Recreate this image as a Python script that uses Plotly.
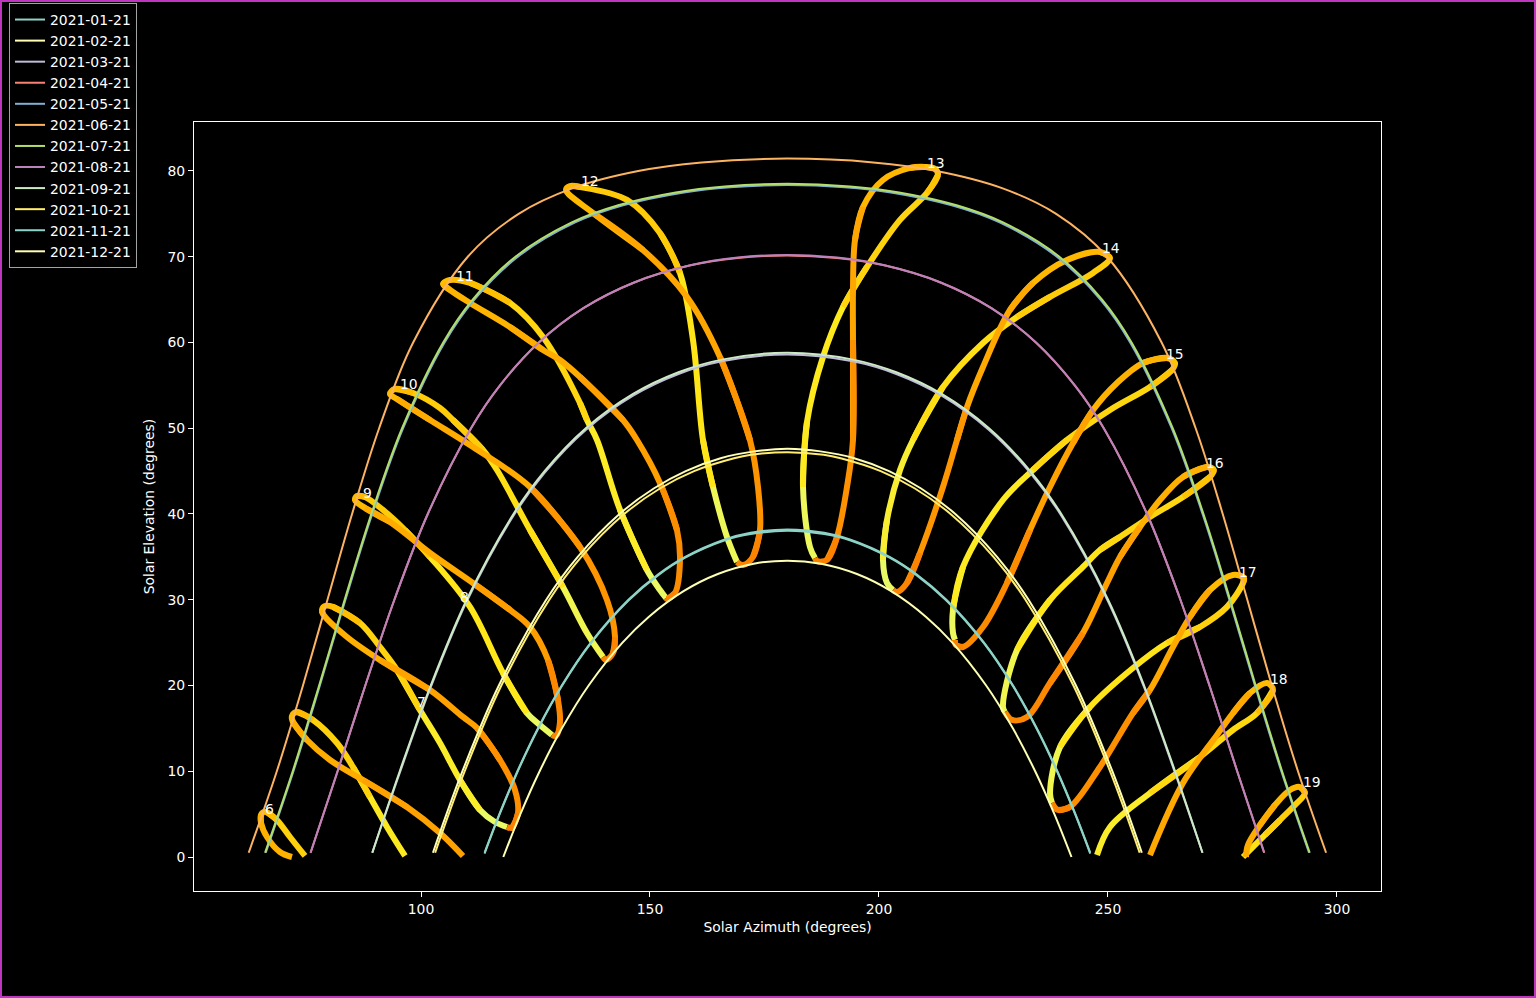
import math
import plotly.graph_objects as go

# ---------------- Sun paths (21st of each month) ----------------
dates = ['2021-01-21', '2021-02-21', '2021-03-21', '2021-04-21', '2021-05-21', '2021-06-21',
         '2021-07-21', '2021-08-21', '2021-09-21', '2021-10-21', '2021-11-21', '2021-12-21']
path_colors = ['#8dd3c7', '#feffb3', '#bfbbd9', '#fa8174', '#81b1d2', '#fdb462',
               '#b3de69', '#bc82bd', '#ccebc4', '#ffed6f', '#8dd3c7', '#feffb3']

jan_az = [113.88, 117.11, 121.05, 125.52, 130.73, 137.06, 145.29, 151.88, 157.69, 166.19, 171.97, 180.0,
          188.03, 193.81, 202.31, 208.12, 214.71, 222.94, 229.27, 234.48, 238.95, 242.89, 246.12]
jan_el = [0.5, 5, 10, 15, 20, 25, 30, 33, 35, 37, 37.8, 38.2, 37.8, 37, 35, 33, 30, 25, 20, 15, 10, 5, 0.5]

feb_az = [102.61, 109.05, 117.00, 127.34, 134.22, 143.34, 150.90, 157.81, 165.41, 172.76, 180.0,
          187.24, 194.59, 202.19, 209.10, 216.66, 225.78, 232.66, 243.00, 250.95, 257.39]
feb_el = [0.5, 10, 20, 30, 35, 40, 43, 45, 46.5, 47.3, 47.6, 47.3, 46.5, 45, 43, 40, 35, 30, 20, 10, 0.5]

mar_az = [89.37, 95.36, 102.12, 109.98, 120.19, 126.98, 135.98, 146.31, 156.08, 165.69, 180.0,
          194.31, 203.92, 213.69, 224.02, 233.02, 239.81, 250.02, 257.88, 264.64, 270.63]
mar_el = [0.5, 9.8, 19.8, 29.8, 39.8, 44.8, 49.8, 53.8, 56.3, 57.8, 58.6, 57.8, 56.3, 53.8, 49.8, 44.8, 39.8, 29.8, 19.8, 9.8, 0.5]

apr_az = [75.89, 81.79, 87.84, 94.19, 101.48, 110.92, 117.25, 125.73, 135.46, 146.55, 158.84, 169.18, 180.0,
          190.82, 201.16, 213.45, 224.54, 234.27, 242.75, 249.08, 258.52, 265.81, 272.16, 278.21, 284.11]
apr_el = [0.5, 10, 20, 30, 40, 50, 55, 60, 64, 67, 69, 69.85, 70.15, 69.85, 69, 67, 64, 60, 55, 50, 40, 30, 20, 10, 0.5]

may_az = [66.1, 72.15, 77.92, 83.5, 89.35, 96.1, 105.15, 111.65, 121.15, 133.65, 144.1, 157.4, 167.5, 180.0,
          192.5, 202.6, 215.9, 226.35, 238.85, 248.35, 254.85, 263.9, 270.65, 276.5, 282.08, 287.85, 293.9]
may_el = [0.5, 10, 20, 30, 40, 50, 60, 65, 70, 74, 76, 77.5, 78.1, 78.35,
          78.1, 77.5, 76, 74, 70, 65, 60, 50, 40, 30, 20, 10, 0.5]

jun_az = [62.38, 68.52, 74.23, 79.58, 84.95, 90.86, 98.29, 110.21, 121.32, 133.14, 147.43, 161.27, 180.0,
          198.73, 212.57, 226.86, 238.68, 249.79, 261.71, 269.14, 275.05, 280.42, 285.77, 291.48, 297.62]
jun_el = [0.5, 10, 20, 30, 40, 50, 60, 70, 75, 78, 80, 81, 81.44, 81, 80, 78, 75, 70, 60, 50, 40, 30, 20, 10, 0.5]

jul_az = [65.95, 71.99, 77.76, 83.33, 89.15, 95.87, 104.85, 111.28, 120.62, 132.92, 143.06, 155.62, 166.33, 180.0,
          193.67, 204.38, 216.94, 227.08, 239.38, 248.72, 255.15, 264.13, 270.85, 276.67, 282.24, 288.01, 294.05]
jul_el = [0.5, 10, 20, 30, 40, 50, 60, 65, 70, 74, 76, 77.5, 78.2, 78.5,
          78.2, 77.5, 76, 74, 70, 65, 60, 50, 40, 30, 20, 10, 0.5]

aug_az = [75.89, 81.79, 87.84, 94.19, 101.48, 110.92, 117.25, 125.73, 135.46, 146.55, 158.84, 169.18, 180.0,
          190.82, 201.16, 213.45, 224.54, 234.27, 242.75, 249.08, 258.52, 265.81, 272.16, 278.21, 284.11]
aug_el = [0.5, 10, 20, 30, 40, 50, 55, 60, 64, 67, 69, 69.9, 70.2, 69.9, 69, 67, 64, 60, 55, 50, 40, 30, 20, 10, 0.5]

sep_az = [89.37, 95.36, 102.12, 109.98, 120.19, 126.98, 135.98, 146.31, 156.08, 165.69, 180.0,
          194.31, 203.92, 213.69, 224.02, 233.02, 239.81, 250.02, 257.88, 264.64, 270.63]
sep_el = [0.5, 10, 20, 30, 40, 45, 50, 54, 56.5, 58, 58.8, 58, 56.5, 54, 50, 45, 40, 30, 20, 10, 0.5]

oct_az = [103.09, 109.55, 117.55, 128.02, 135.01, 144.37, 152.25, 159.63, 168.37, 172.08, 180.0,
          187.92, 191.63, 200.37, 207.75, 215.63, 224.99, 231.98, 242.45, 250.45, 256.91]
oct_el = [0.5, 10, 20, 30, 35, 40, 43, 45, 46.5, 46.9, 47.2, 46.9, 46.5, 45, 43, 40, 35, 30, 20, 10, 0.5]

nov_az = [113.88, 117.11, 121.05, 125.52, 130.73, 137.06, 145.29, 151.88, 157.69, 166.19, 171.97, 180.0,
          188.03, 193.81, 202.31, 208.12, 214.71, 222.94, 229.27, 234.48, 238.95, 242.89, 246.12]
nov_el = [0.4, 4.9, 9.9, 14.9, 19.9, 24.9, 29.9, 32.9, 34.9, 36.9, 37.65, 38.05,
          37.65, 36.9, 34.9, 32.9, 29.9, 24.9, 19.9, 14.9, 9.9, 4.9, 0.4]

dec_az = [117.97, 121.70, 125.90, 130.77, 136.60, 143.99, 149.71, 157.33, 164.81, 172.64, 180.0,
          187.36, 195.19, 202.67, 210.29, 216.01, 223.40, 229.23, 234.10, 238.30, 242.03]
dec_el = [0.0, 5, 10, 15, 20, 25, 28, 31, 33, 34.2, 34.56, 34.2, 33, 31, 28, 25, 20, 15, 10, 5, 0.0]

path_az = [jan_az, feb_az, mar_az, apr_az, may_az, jun_az, jul_az, aug_az, sep_az, oct_az, nov_az, dec_az]
path_el = [jan_el, feb_el, mar_el, apr_el, may_el, jun_el, jul_el, aug_el, sep_el, oct_el, nov_el, dec_el]

# ---------------- Analemmas (clock hours), points in time order Jan -> Dec ----------------
hours = [6, 7, 8, 9, 10, 11, 12, 13, 14, 15, 16, 17, 18, 19]

h6_az = [74.67, 71.40, 68.56, 66.60, 65.72, 65.07, 65.07, 66.38, 69.21, 71.83]
h6_el = [0.12, 2.33, 4.31, 5.13, 5.25, 4.90, 3.97, 2.33, 0.58, 0.0]

h7_az = [96.51, 92.58, 88.86, 85.15, 81.66, 76.42, 72.93, 71.83, 72.05, 75.11, 80.13, 87.34, 96.94, 104.15, 109.17]
h7_el = [0.12, 3.50, 7.00, 10.50, 13.29, 15.98, 16.91, 16.44, 15.74, 13.64, 11.31, 8.98, 5.83, 2.80, 0.12]

h8_az = [118.78, 116.16, 112.88, 108.52, 104.15, 99.78, 94.76, 91.05, 86.68, 80.79, 79.04,
         78.38, 78.60, 83.84, 91.05, 101.97, 109.17, 112.23, 117.25, 120.52, 121.18, 119.87]
h8_el = [3.50, 4.08, 5.48, 8.98, 13.29, 17.14, 21.81, 24.49, 27.29, 29.16, 29.27,
         28.81, 28.34, 25.66, 22.97, 19.48, 16.33, 15.04, 11.31, 7.81, 5.13, 3.40]

h9_az = [128.60, 125.98, 123.14, 117.90, 110.70, 101.97, 96.51, 91.70, 87.77, 86.03,
         85.59, 87.77, 93.23, 101.97, 111.35, 119.43, 123.80, 127.73, 129.91, 130.35, 129.48]
h9_el = [14.23, 15.39, 16.79, 21.46, 29.16, 34.99, 38.13, 40.47, 41.98, 42.10,
         41.63, 40.70, 39.07, 35.45, 31.95, 28.81, 26.82, 22.97, 18.31, 15.74, 14.13]

h10_az = [139.74, 136.24, 131.00, 123.80, 116.59, 113.54, 106.99, 104.15, 98.25, 94.32,
          93.23, 94.76, 101.97, 111.35, 123.80, 134.72, 140.61, 142.36, 141.92, 140.39]
h10_el = [23.32, 26.12, 31.49, 38.13, 45.13, 47.46, 50.96, 52.36, 54.11, 54.58,
          53.99, 53.41, 50.96, 47.81, 43.15, 36.15, 29.97, 25.66, 23.79, 22.97]

h11_az = [153.49, 152.18, 149.34, 143.45, 138.43, 136.24, 134.72, 126.64, 119.43, 110.70, 106.33,
          104.80, 106.33, 110.70, 119.43, 126.64, 130.35, 134.72, 144.11, 147.16, 152.18, 155.89, 156.55, 155.46, 153.71]
h11_el = [30.20, 31.14, 33.47, 40.47, 48.63, 50.96, 52.94, 60.64, 64.61, 66.94, 67.29,
          66.82, 66.12, 64.61, 61.81, 59.13, 57.96, 55.98, 50.96, 48.63, 43.62, 38.13, 34.64, 30.79, 30.09]

h12_az = [168.99, 166.81, 163.76, 161.57, 159.39, 156.55, 152.18, 144.98, 134.72, 132.53,
          131.66, 137.55, 148.47, 158.08, 165.28, 171.83, 173.58, 174.02, 172.49, 170.30]
h12_el = [34.40, 37.32, 43.15, 48.63, 60.29, 68.11, 72.77, 76.62, 78.13, 78.25,
          77.78, 75.10, 70.79, 65.31, 58.31, 48.63, 43.15, 38.13, 34.99, 34.05]

h13_az = [186.03, 184.93, 183.41, 184.28, 187.77, 192.14, 197.38, 204.59, 210.48, 212.88, 212.23,
          210.04, 206.77, 200.87, 196.51, 194.76, 194.32, 194.32, 194.32, 193.01, 190.83, 188.65, 186.46]
h13_el = [34.87, 36.15, 43.15, 50.73, 58.31, 64.14, 68.81, 74.29, 77.44, 79.54, 80.24,
          80.47, 80.35, 78.95, 75.80, 71.95, 66.12, 60.29, 48.63, 43.15, 37.32, 34.64, 34.52]

h14_az = [203.06, 201.75, 200.87, 201.75, 204.59, 207.43, 213.97, 222.71, 230.13, 237.34, 246.73, 250.44,
          248.25, 241.05, 233.62, 228.60, 222.71, 219.22, 217.04, 213.97, 208.95, 206.11, 203.93]
h14_el = [31.14, 31.95, 34.64, 39.30, 45.13, 48.63, 54.81, 59.94, 62.97, 65.31, 68.11, 69.86,
          70.55, 69.62, 66.94, 63.79, 57.14, 52.48, 48.63, 43.15, 35.45, 31.95, 30.90]

h15_az = [216.59, 216.16, 216.16, 218.34, 227.07, 233.62, 241.05, 250.44, 259.17, 263.97, 264.64,
          262.88, 257.64, 251.97, 246.73, 242.36, 237.34, 232.97, 227.95, 222.71, 218.34, 216.81]
h15_el = [25.31, 26.12, 28.81, 33.82, 41.63, 45.13, 48.63, 52.13, 54.81, 56.79, 57.61,
          58.19, 57.61, 55.28, 52.13, 48.28, 43.15, 38.13, 31.95, 26.82, 24.49, 24.72]

h16_az = [227.51, 227.07, 230.13, 237.34, 244.54, 248.25, 252.62, 259.17, 266.37, 272.27, 273.14,
          271.62, 266.37, 261.35, 256.98, 252.62, 249.78, 244.54, 237.34, 232.32, 229.04]
h16_el = [16.91, 17.49, 24.14, 29.97, 33.82, 35.80, 37.32, 39.65, 41.98, 44.32, 45.13,
          45.48, 44.32, 41.63, 38.48, 34.99, 31.95, 26.12, 20.29, 16.33, 15.98]

h17_az = [237.77, 237.34, 239.52, 246.07, 255.46, 262.88, 270.09, 275.98, 279.48, 279.69,
          277.29, 272.27, 267.90, 264.19, 259.17, 255.46, 248.25, 241.70, 239.08]
h17_el = [6.30, 7.46, 12.83, 17.49, 22.04, 24.96, 26.82, 29.16, 31.95, 32.54,
          32.89, 31.14, 27.99, 24.49, 19.48, 16.79, 10.50, 5.83, 5.48]

h18_az = [247.60, 250.44, 259.17, 270.09, 277.29, 282.53, 286.03, 284.72, 281.01, 277.29, 273.80, 266.37, 259.17]
h18_el = [0.23, 3.50, 7.46, 11.66, 14.81, 16.79, 19.48, 20.29, 19.13, 16.79, 14.23, 8.63, 0.23]

h19_az = [279.48, 281.01, 284.29, 287.55, 290.83, 293.01, 291.92, 289.74, 286.46, 283.19, 280.56, 280.13]
h19_el = [0.0, 0.82, 2.57, 4.31, 6.06, 7.46, 8.16, 7.81, 6.06, 3.73, 1.40, 0.0]

ana_az = {6: h6_az, 7: h7_az, 8: h8_az, 9: h9_az, 10: h10_az, 11: h11_az, 12: h12_az,
          13: h13_az, 14: h14_az, 15: h15_az, 16: h16_az, 17: h17_az, 18: h18_az, 19: h19_az}
ana_el = {6: h6_el, 7: h7_el, 8: h8_el, 9: h9_el, 10: h10_el, 11: h11_el, 12: h12_el,
          13: h13_el, 14: h14_el, 15: h15_el, 16: h16_el, 17: h17_el, 18: h18_el, 19: h19_el}
# winter bottoms of the analemmas that are cut by the horizon (estimated)
ana_bottom = {6: -17.0, 7: -8.0, 18: -7.0, 19: -15.0}

# hour label positions (azimuth, elevation of the text's left edge)
label_hours = [6, 7, 8, 9, 10, 11, 12, 13, 14, 15, 16, 17, 18, 19]
label_az = [65.72, 98.91, 108.30, 87.12, 95.20, 107.42, 134.72, 210.26, 248.47, 262.44, 271.18, 278.38, 285.15, 292.36]
label_el = [5.60, 18.08, 30.32, 42.45, 55.16, 67.76, 78.84, 80.93, 71.02, 58.66, 45.95, 33.24, 20.76, 8.75]

# ---------------- styling helpers ----------------
WISTIA = [(0.0, (228, 255, 122)), (0.25, (255, 232, 26)), (0.5, (255, 189, 0)),
          (0.75, (255, 160, 0)), (1.0, (252, 127, 0))]


def wistia(f):
    f = max(0.0, min(1.0, f))
    for (a, ca), (b, cb) in zip(WISTIA[:-1], WISTIA[1:]):
        if f <= b:
            t = (f - a) / (b - a)
            c = [round(ca[k] + (cb[k] - ca[k]) * t) for k in range(3)]
            return 'rgb(%d,%d,%d)' % tuple(c)
    return 'rgb(252,127,0)'


fig = go.Figure()

CH = 3  # segments per coloured piece (pieces overlap by one segment to hide joints)
for h in hours:
    az = list(ana_az[h])
    el = list(ana_el[h])
    closed = h not in ana_bottom
    if closed:
        az.append(az[0])
        el.append(el[0])
    lo = ana_bottom.get(h, min(el))
    hi = max(el)
    top = el.index(hi)
    fr = []
    for i, e in enumerate(el):
        u = max(0.0, min(1.0, (e - lo) / (hi - lo)))
        t = math.acos(1 - 2 * u) / (2 * math.pi)
        f = t - 0.0274 if i <= top else 1 - t - 0.0274
        fr.append(max(0.0, min(1.0, f)))
    if closed:
        fr[-1] = 1.0
    for s in range(0, len(az) - 1, CH):
        idx = list(range(max(0, s - 1), min(s + CH + 1, len(az))))
        core = list(range(s, min(s + CH + 1, len(az))))
        col = wistia(sum(fr[i] for i in core) / len(core))
        fig.add_trace(go.Scatter(x=[az[i] for i in idx], y=[el[i] for i in idx], mode='lines',
                                 line=dict(color=col, width=6, shape='spline'),
                                 showlegend=False, hoverinfo='skip'))

for i, d in enumerate(dates):
    fig.add_trace(go.Scatter(x=path_az[i], y=path_el[i], mode='lines', name=d,
                             line=dict(color=path_colors[i], width=2, shape='spline')))

for hh, x, y in zip(label_hours, label_az, label_el):
    fig.add_annotation(x=x, y=y, text=str(hh), showarrow=False, xanchor='left', yanchor='middle',
                       font=dict(size=13.9, color='white'), xshift=-1)

L, R, T, B = 194, 1381, 122, 891
PW, PH = R - L, B - T

fig.update_layout(
    width=1536, height=998,
    margin=dict(l=L, r=1536 - R, t=T, b=998 - B, pad=0, autoexpand=False),
    paper_bgcolor='black', plot_bgcolor='black',
    font=dict(family='DejaVu Sans', size=13.9, color='white'),
    showlegend=True,
    legend=dict(x=(9 - L) / PW, y=(B - 3) / PH, xanchor='left', yanchor='top',
                bgcolor='rgba(0,0,0,0.8)', bordercolor='#a3a3a3', borderwidth=1,
                font=dict(size=13.9, color='white'), tracegroupgap=0, itemwidth=30),
    xaxis=dict(range=[50.437, 309.61], tickvals=[100, 150, 200, 250, 300], automargin=False,
               ticks='outside', ticklen=5, tickwidth=1, tickcolor='white',
               showline=True, linecolor='white', linewidth=1, mirror=True,
               showgrid=False, zeroline=False, tickfont=dict(size=13.9, color='white'),
               title=dict(text='Solar Azimuth (degrees)', standoff=6, font=dict(size=13.9, color='white'))),
    yaxis=dict(range=[-3.965, 85.71], tickvals=[0, 10, 20, 30, 40, 50, 60, 70, 80], automargin=False,
               ticks='outside', ticklen=5, tickwidth=1, tickcolor='white',
               showline=True, linecolor='white', linewidth=1, mirror=True,
               showgrid=False, zeroline=False, tickfont=dict(size=13.9, color='white'),
               title=dict(text='Solar Elevation (degrees)', standoff=9, font=dict(size=13.9, color='white'))),
    shapes=[dict(type='rect', xref='paper', yref='paper', layer='above',
                 x0=(1 - L) / PW, x1=(1535 - L) / PW, y0=(B - 997) / PH, y1=(B - 1) / PH,
                 line=dict(color='#bf36bf', width=2))],
)

fig.write_html('out.html')
